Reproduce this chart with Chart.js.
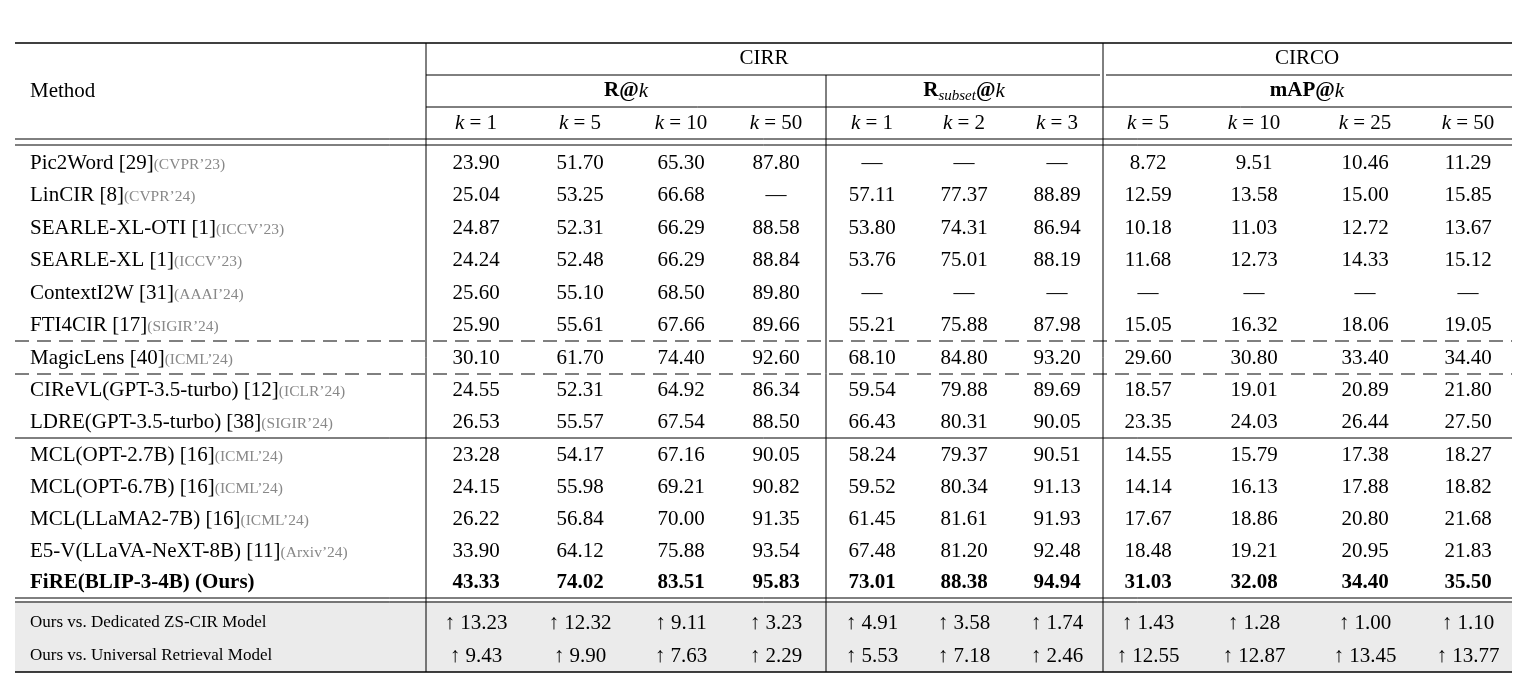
<!DOCTYPE html>
<html>
<head>
<meta charset="utf-8">
<script src="https://cdn.jsdelivr.net/npm/chart.js@4.4.0/dist/chart.umd.min.js"></script>
<style>
  body { margin: 0; background: #fff; }
  #wrap { width: 1524px; height: 674px; position: relative; }
</style>
</head>
<body>
<div id="wrap"><canvas id="myChart"></canvas></div>
<script>
var methods = ['Pic2Word [29]', 'LinCIR [8]', 'SEARLE-XL-OTI [1]', 'SEARLE-XL [1]', 'ContextI2W [31]', 'FTI4CIR [17]',
  'MagicLens [40]', 'CIReVL(GPT-3.5-turbo) [12]', 'LDRE(GPT-3.5-turbo) [38]',
  'MCL(OPT-2.7B) [16]', 'MCL(OPT-6.7B) [16]', 'MCL(LLaMA2-7B) [16]', 'E5-V(LLaVA-NeXT-8B) [11]', 'FiRE(BLIP-3-4B) (Ours)'];
var venues = ['(CVPR\u201923)', '(CVPR\u201924)', '(ICCV\u201923)', '(ICCV\u201923)', '(AAAI\u201924)', '(SIGIR\u201924)',
  '(ICML\u201924)', '(ICLR\u201924)', '(SIGIR\u201924)', '(ICML\u201924)', '(ICML\u201924)', '(ICML\u201924)', '(Arxiv\u201924)', ''];
var cirr_r = [
  ['23.90', '51.70', '65.30', '87.80'], ['25.04', '53.25', '66.68', '\u2014'], ['24.87', '52.31', '66.29', '88.58'],
  ['24.24', '52.48', '66.29', '88.84'], ['25.60', '55.10', '68.50', '89.80'], ['25.90', '55.61', '67.66', '89.66'],
  ['30.10', '61.70', '74.40', '92.60'], ['24.55', '52.31', '64.92', '86.34'], ['26.53', '55.57', '67.54', '88.50'],
  ['23.28', '54.17', '67.16', '90.05'], ['24.15', '55.98', '69.21', '90.82'], ['26.22', '56.84', '70.00', '91.35'],
  ['33.90', '64.12', '75.88', '93.54'], ['43.33', '74.02', '83.51', '95.83']];
var cirr_subset = [
  ['\u2014', '\u2014', '\u2014'], ['57.11', '77.37', '88.89'], ['53.80', '74.31', '86.94'],
  ['53.76', '75.01', '88.19'], ['\u2014', '\u2014', '\u2014'], ['55.21', '75.88', '87.98'],
  ['68.10', '84.80', '93.20'], ['59.54', '79.88', '89.69'], ['66.43', '80.31', '90.05'],
  ['58.24', '79.37', '90.51'], ['59.52', '80.34', '91.13'], ['61.45', '81.61', '91.93'],
  ['67.48', '81.20', '92.48'], ['73.01', '88.38', '94.94']];
var circo_map = [
  ['8.72', '9.51', '10.46', '11.29'], ['12.59', '13.58', '15.00', '15.85'], ['10.18', '11.03', '12.72', '13.67'],
  ['11.68', '12.73', '14.33', '15.12'], ['\u2014', '\u2014', '\u2014', '\u2014'], ['15.05', '16.32', '18.06', '19.05'],
  ['29.60', '30.80', '33.40', '34.40'], ['18.57', '19.01', '20.89', '21.80'], ['23.35', '24.03', '26.44', '27.50'],
  ['14.55', '15.79', '17.38', '18.27'], ['14.14', '16.13', '17.88', '18.82'], ['17.67', '18.86', '20.80', '21.68'],
  ['18.48', '19.21', '20.95', '21.83'], ['31.03', '32.08', '34.40', '35.50']];
var gain_labels = ['Ours vs. Dedicated ZS-CIR Model', 'Ours vs. Universal Retrieval Model'];
var gain_values = [
  ['13.23', '12.32', '9.11', '3.23', '4.91', '3.58', '1.74', '1.43', '1.28', '1.00', '1.10'],
  ['9.43', '9.90', '7.63', '2.29', '5.53', '7.18', '2.46', '12.55', '12.87', '13.45', '13.77']];
var k_labels = ['1', '5', '10', '50', '1', '2', '3', '5', '10', '25', '50'];

// layout (pixel-space values on the hidden linear scales)
var colX = [476, 580, 681, 776, 872, 964, 1057, 1148, 1254, 1365, 1468];
var rowY = [163, 195, 228, 260, 293, 325, 358, 390, 422, 455, 487, 519, 551, 583];
var gainY = [623, 656];
var SERIF = '"Liberation Serif", "DejaVu Serif", serif';

var tablePlugin = {
  id: 'tableDraw',
  afterDraw: function(chart) {
    var c = chart.ctx, sx = chart.scales.x, sy = chart.scales.y;
    function X(v) { return sx.getPixelForValue(v); }
    function Y(v) { return sy.getPixelForValue(v); }
    function hline(x1, x2, y, w, dash) {
      c.save(); c.strokeStyle = '#000'; c.lineWidth = w || 1;
      c.setLineDash(dash || []);
      c.beginPath(); c.moveTo(X(x1), Y(y)); c.lineTo(X(x2), Y(y)); c.stroke(); c.restore();
    }
    function vline(x, y1, y2) {
      c.save(); c.strokeStyle = '#000'; c.lineWidth = 1;
      c.beginPath(); c.moveTo(X(x), Y(y1)); c.lineTo(X(x), Y(y2)); c.stroke(); c.restore();
    }
    function text(s, x, y, font, align, color) {
      c.font = font; c.textAlign = align || 'center'; c.textBaseline = 'middle';
      c.fillStyle = color || '#000'; c.fillText(s, X(x), Y(y));
    }
    // k = n, with italic k
    function kText(n, x, y) {
      c.font = 'italic 21px ' + SERIF; var w1 = c.measureText('k').width;
      c.font = '21px ' + SERIF; var w2 = c.measureText(' = ' + n).width;
      var start = X(x) - (w1 + w2) / 2;
      c.textAlign = 'left'; c.textBaseline = 'middle'; c.fillStyle = '#000';
      c.font = 'italic 21px ' + SERIF; c.fillText('k', start, Y(y));
      c.font = '21px ' + SERIF; c.fillText(' = ' + n, start + w1, Y(y));
    }

    // gray band
    c.fillStyle = '#ebebeb';
    c.fillRect(X(15), Y(601), X(1512) - X(15), Y(672) - Y(601));

    // header
    text('Method', 30, 91, '21px ' + SERIF, 'left');
    text('CIRR', 764, 58, '21px ' + SERIF);
    text('CIRCO', 1307, 58, '21px ' + SERIF);
    // R@k
    c.font = 'bold 21px ' + SERIF; var a = c.measureText('R@').width;
    c.font = 'italic 21px ' + SERIF; var b = c.measureText('k').width;
    var st = X(626) - (a + b) / 2;
    c.textAlign = 'left'; c.fillStyle = '#000';
    c.font = 'bold 21px ' + SERIF; c.fillText('R@', st, Y(91));
    c.font = 'italic 21px ' + SERIF; c.fillText('k', st + a, Y(91));
    // Rsubset@k
    c.font = 'bold 21px ' + SERIF; var r1 = c.measureText('R').width, r3 = c.measureText('@').width;
    c.font = 'italic 15px ' + SERIF; var r2 = c.measureText('subset').width;
    c.font = 'italic 21px ' + SERIF; var r4 = c.measureText('k').width;
    st = X(964) - (r1 + r2 + r3 + r4) / 2;
    c.font = 'bold 21px ' + SERIF; c.fillText('R', st, Y(91));
    c.font = 'italic 15px ' + SERIF; c.fillText('subset', st + r1, Y(96));
    c.font = 'bold 21px ' + SERIF; c.fillText('@', st + r1 + r2, Y(91));
    c.font = 'italic 21px ' + SERIF; c.fillText('k', st + r1 + r2 + r3, Y(91));
    // mAP@k
    c.font = 'bold 21px ' + SERIF; a = c.measureText('mAP@').width;
    st = X(1307) - (a + b) / 2;
    c.fillText('mAP@', st, Y(91));
    c.font = 'italic 21px ' + SERIF; c.fillText('k', st + a, Y(91));
    for (var i = 0; i < k_labels.length; i++) kText(k_labels[i], colX[i], 123);

    // body rows
    for (var r = 0; r < methods.length; r++) {
      var bold = (r === methods.length - 1);
      var f = (bold ? 'bold ' : '') + '21px ' + SERIF;
      c.font = f; var mw = c.measureText(methods[r]).width;
      text(methods[r], 30, rowY[r], f, 'left');
      if (venues[r]) text(venues[r], X(30) + mw, rowY[r] + 2, '15.5px ' + SERIF, 'left', '#888');
      var vals = cirr_r[r].concat(cirr_subset[r], circo_map[r]);
      for (var j = 0; j < vals.length; j++) text(vals[j], colX[j], rowY[r], f);
    }
    // gain rows
    for (var g = 0; g < gain_labels.length; g++) {
      text(gain_labels[g], 30, gainY[g], '17px ' + SERIF, 'left');
      for (var j = 0; j < gain_values[g].length; j++)
        text('\u2191 ' + gain_values[g][j], colX[j], gainY[g], '21px ' + SERIF);
    }

    // rules
    hline(15, 1512, 43, 1.3);
    hline(426, 1100, 75); hline(1106, 1512, 75);
    hline(426, 1512, 107);
    hline(15, 1512, 139); hline(15, 1512, 145);
    hline(15, 1512, 341, 1, [14, 8]);
    hline(15, 1512, 374, 1, [14, 8]);
    hline(15, 1512, 438);
    hline(15, 1512, 598); hline(15, 1512, 602);
    hline(15, 1512, 672, 1.3);
    vline(426, 43, 672);
    vline(826, 75, 672);
    vline(1103, 43, 672);
  }
};

var ctx = document.getElementById('myChart').getContext('2d');
var chart = new Chart(ctx, {
  type: 'scatter',
  data: { datasets: [{ data: [], pointRadius: 0 }] },
  options: {
    responsive: true,
    maintainAspectRatio: false,
    animation: false,
    layout: { padding: 0 },
    plugins: { legend: { display: false }, tooltip: { enabled: false } },
    scales: {
      x: { type: 'linear', min: 0, max: 1524, display: false },
      y: { type: 'linear', min: 0, max: 674, reverse: true, display: false }
    }
  },
  plugins: [tablePlugin]
});
</script>
</body>
</html>
